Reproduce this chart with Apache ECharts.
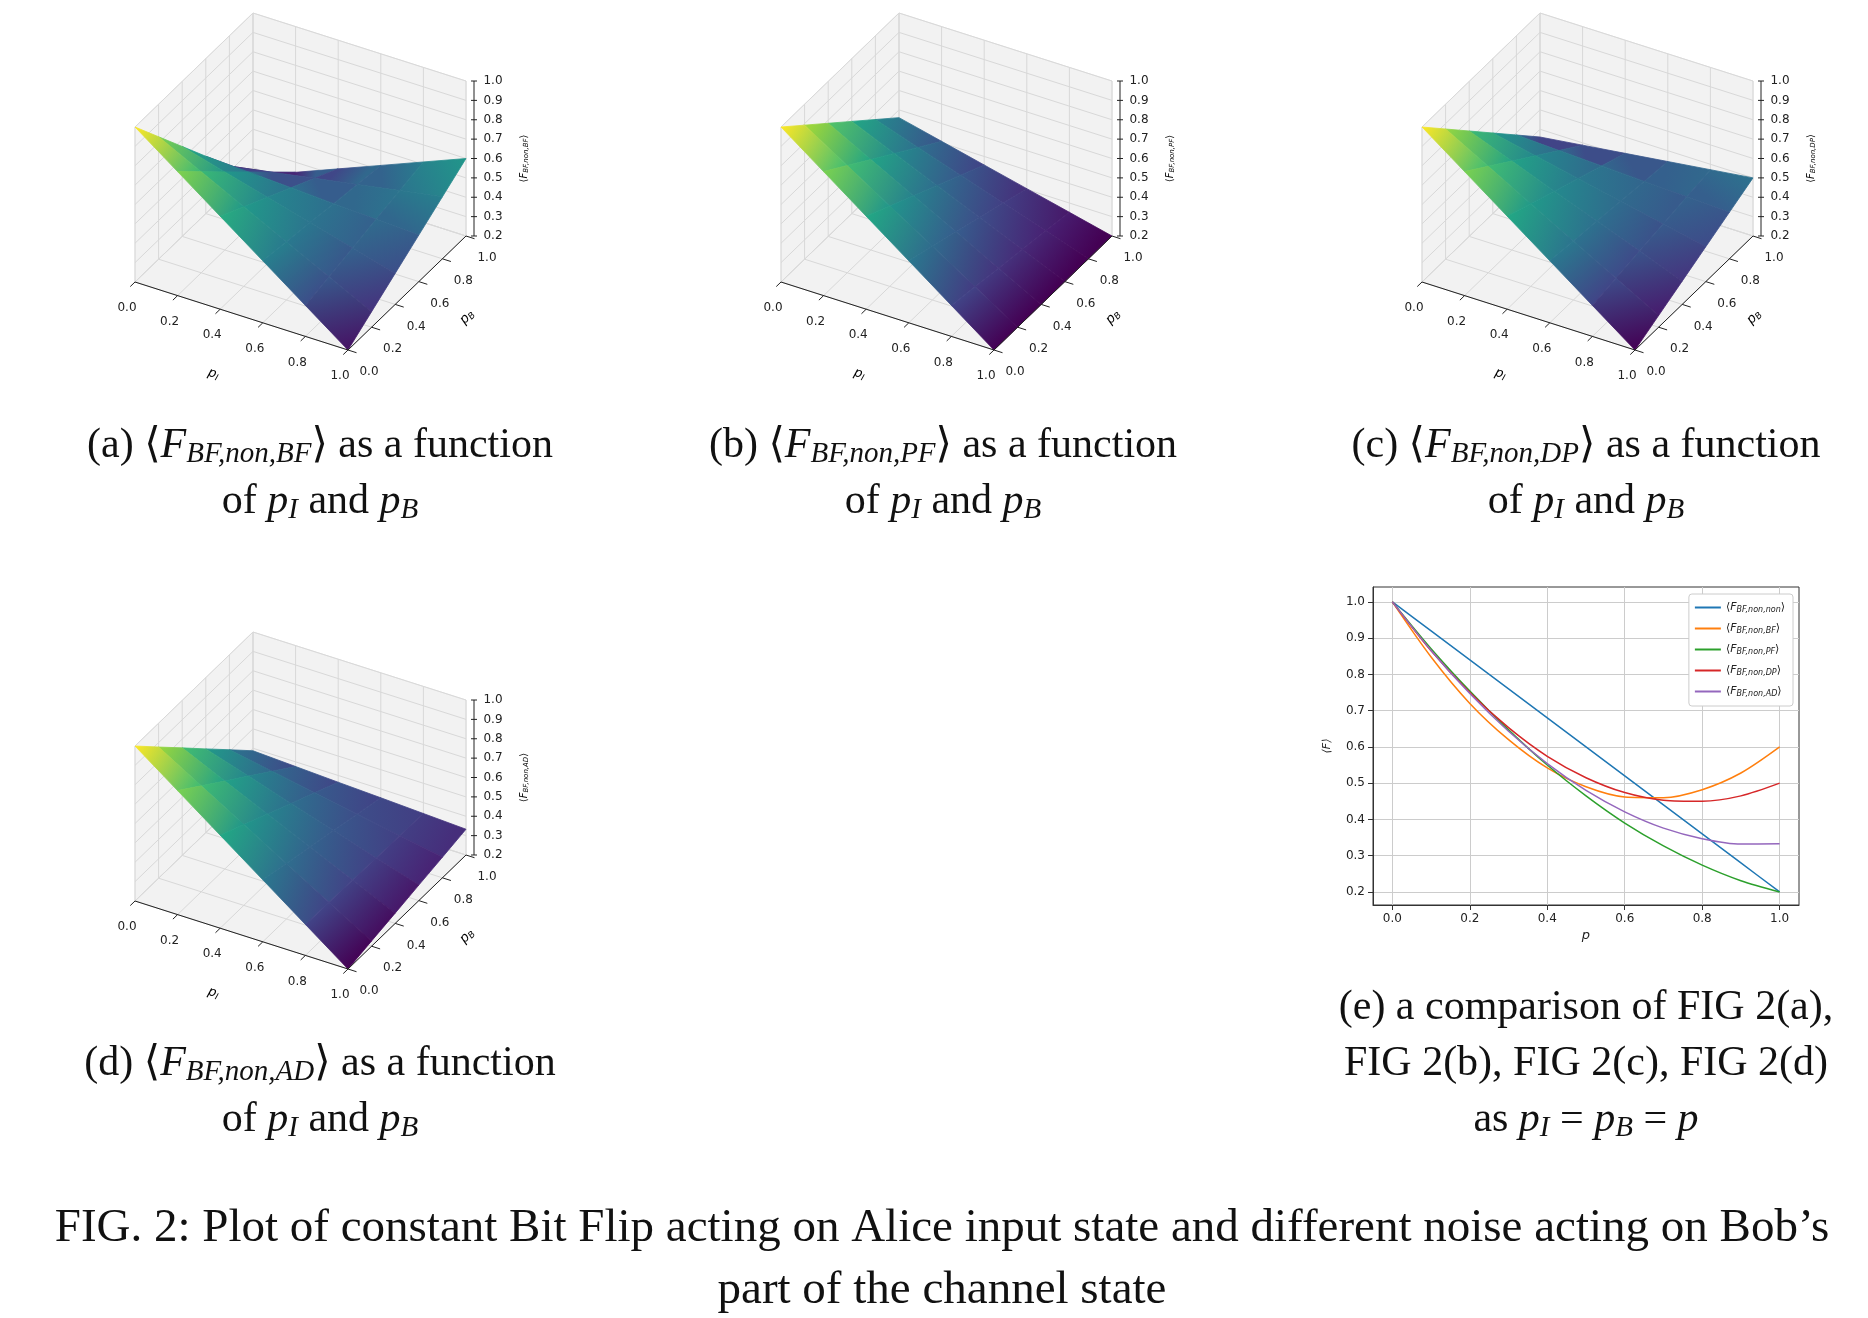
<!DOCTYPE html>
<html><head><meta charset="utf-8">
<script src="https://cdn.jsdelivr.net/npm/echarts@6/dist/echarts.min.js"></script>
<style>html,body{margin:0;padding:0;background:#fff}#c{width:1868px;height:1318px}</style>
</head><body><div id="c"></div>
<script>
// ---- data ----
const pTicks = [0, 0.2, 0.4, 0.6, 0.8, 1.0];
const zTicks = [0.2, 0.3, 0.4, 0.5, 0.6, 0.7, 0.8, 0.9, 1.0];
// surfaces: rows = pB (0..1 step .2), columns = pI (0..1 step .2)
const surfBF = [
  [1.000, 0.840, 0.680, 0.520, 0.360, 0.200],
  [0.832, 0.722, 0.611, 0.501, 0.390, 0.280],
  [0.664, 0.603, 0.542, 0.482, 0.421, 0.360],
  [0.496, 0.485, 0.474, 0.462, 0.451, 0.440],
  [0.328, 0.366, 0.405, 0.443, 0.482, 0.520],
  [0.160, 0.248, 0.336, 0.424, 0.512, 0.600]];
const surfPF = [
  [1.000, 0.840, 0.680, 0.520, 0.360, 0.200],
  [0.892, 0.754, 0.615, 0.477, 0.338, 0.200],
  [0.784, 0.667, 0.550, 0.434, 0.317, 0.200],
  [0.676, 0.581, 0.486, 0.390, 0.295, 0.200],
  [0.568, 0.494, 0.421, 0.347, 0.274, 0.200],
  [0.460, 0.408, 0.356, 0.304, 0.252, 0.200]];
const surfDP = [
  [1.000, 0.840, 0.680, 0.520, 0.360, 0.200],
  [0.872, 0.750, 0.627, 0.505, 0.382, 0.260],
  [0.744, 0.659, 0.574, 0.490, 0.405, 0.320],
  [0.616, 0.569, 0.522, 0.474, 0.427, 0.380],
  [0.488, 0.478, 0.469, 0.459, 0.450, 0.440],
  [0.360, 0.388, 0.416, 0.444, 0.472, 0.500]];
const surfAD = [
  [1.000, 0.840, 0.680, 0.520, 0.360, 0.200],
  [0.877, 0.747, 0.617, 0.487, 0.357, 0.227],
  [0.755, 0.654, 0.554, 0.454, 0.354, 0.253],
  [0.632, 0.562, 0.491, 0.421, 0.350, 0.280],
  [0.510, 0.469, 0.428, 0.388, 0.347, 0.306],
  [0.387, 0.376, 0.365, 0.355, 0.344, 0.333]];
const pLine = [0, 0.1, 0.2, 0.3, 0.4, 0.5, 0.6, 0.7, 0.8, 0.9, 1.0];
const fNon = [1.0, 0.92, 0.84, 0.76, 0.68, 0.60, 0.52, 0.44, 0.36, 0.28, 0.20];
const fBF  = [1.0, 0.848, 0.72, 0.62, 0.542, 0.49, 0.462, 0.46, 0.482, 0.528, 0.60];
const fPF  = [1.0, 0.871, 0.754, 0.647, 0.55, 0.465, 0.39, 0.327, 0.274, 0.231, 0.20];
const fDP  = [1.0, 0.865, 0.75, 0.653, 0.574, 0.515, 0.474, 0.453, 0.45, 0.465, 0.50];
const fAD  = [1.0, 0.866, 0.747, 0.643, 0.554, 0.48, 0.421, 0.376, 0.347, 0.332, 0.333];
const lineNames = ['non,non', 'non,BF', 'non,PF', 'non,DP', 'non,AD'];

// ---- drawing ----
const serif = "'Liberation Serif','DejaVu Serif',serif";
const sans = "'DejaVu Sans',sans-serif";
const vir = ['#440154','#482475','#414487','#355f8d','#2a788e','#21918c','#22a884','#44bf70','#7ad151','#bddf26','#fde725'];
function hex(c){return [1,3,5].map(k=>parseInt(c.substr(k,2),16));}
function viridis(t){t=Math.max(0,Math.min(1,t));const x=t*10,i=Math.min(9,Math.floor(x)),f=x-i;const a=hex(vir[i]),b=hex(vir[i+1]);
  return 'rgb('+a.map((v,k)=>Math.round(v+(b[k]-v)*f)).join(',')+')';}

const panels = [
  {surf: surfBF, o:[135,282], sub:'BF,non,BF'},
  {surf: surfPF, o:[781,282], sub:'BF,non,PF'},
  {surf: surfDP, o:[1422,282], sub:'BF,non,DP'},
  {surf: surfAD, o:[135,901], sub:'BF,non,AD'}];

function proj(o, pi, pb, z){ return [o[0]+pi*213+pb*118, o[1]+pi*68-pb*114-(z-0.2)/0.8*155]; }

function panelGroup(k){
  const P = panels[k], o = P.o, ch = [];
  const paneFill = '#f2f2f2', paneEdge = '#e6e6e6', gridC = '#d8d8d8';
  const poly = (pts, fill, stroke) => ({type:'polygon', shape:{points:pts}, style:{fill:fill, stroke:stroke||fill, lineWidth:stroke?1:0.6}});
  const line = (a, b, c, w) => ({type:'line', shape:{x1:a[0],y1:a[1],x2:b[0],y2:b[1]}, style:{stroke:c, lineWidth:w||1}});
  ch.push(poly([proj(o,0,0,.2),proj(o,0,1,.2),proj(o,0,1,1),proj(o,0,0,1)], paneFill, paneEdge));
  ch.push(poly([proj(o,0,1,.2),proj(o,1,1,.2),proj(o,1,1,1),proj(o,0,1,1)], paneFill, paneEdge));
  ch.push(poly([proj(o,0,0,.2),proj(o,1,0,.2),proj(o,1,1,.2),proj(o,0,1,.2)], paneFill, paneEdge));
  pTicks.forEach(t=>{
    ch.push(line(proj(o,0,t,.2),proj(o,0,t,1),gridC));
    ch.push(line(proj(o,t,1,.2),proj(o,t,1,1),gridC));
    ch.push(line(proj(o,t,0,.2),proj(o,t,1,.2),gridC));
    ch.push(line(proj(o,0,t,.2),proj(o,1,t,.2),gridC));
  });
  zTicks.forEach(z=>{
    ch.push(line(proj(o,0,0,z),proj(o,0,1,z),gridC));
    ch.push(line(proj(o,0,1,z),proj(o,1,1,z),gridC));
  });
  const S = P.surf; let mn=1e9,mx=-1e9; S.forEach(r=>r.forEach(v=>{mn=Math.min(mn,v);mx=Math.max(mx,v);}));
  const quads=[];
  for(let j=0;j<5;j++)for(let i=0;i<5;i++){
    const a=pTicks[i],b=pTicks[i+1],c=pTicks[j],d=pTicks[j+1];
    const corners=[[a,c,S[j][i]],[b,c,S[j][i+1]],[b,d,S[j+1][i+1]],[a,d,S[j+1][i]]];
    const pts=corners.map(q=>proj(o,q[0],q[1],q[2]));
    let lo=0,hi=0; corners.forEach((q,m)=>{if(q[2]<corners[lo][2])lo=m; if(q[2]>corners[hi][2])hi=m;});
    const A=pts[lo],B=pts[hi];
    const fill = (hi===lo)?viridis((corners[0][2]-mn)/(mx-mn)):
      new echarts.graphic.LinearGradient(A[0],A[1],B[0],B[1],[
        {offset:0,color:viridis((corners[lo][2]-mn)/(mx-mn))},
        {offset:1,color:viridis((corners[hi][2]-mn)/(mx-mn))}],true);
    quads.push({depth:(a+b)/2*68-(c+d)/2*114, pts, fill});
  }
  quads.sort((p,q)=>p.depth-q.depth).forEach(q=>ch.push({type:'polygon',shape:{points:q.pts},style:{fill:q.fill,stroke:q.fill,lineWidth:0.8}}));
  const ax='#222';
  ch.push(line(proj(o,0,0,.2),proj(o,1,0,.2),ax));
  ch.push(line(proj(o,1,0,.2),proj(o,1,1,.2),ax));
  const zx = proj(o,1,1,.2)[0]+8;
  ch.push({type:'line',shape:{x1:zx,y1:proj(o,1,1,.2)[1],x2:zx,y2:proj(o,1,1,1)[1]},style:{stroke:ax,lineWidth:1}});
  const lab=(x,y,t)=>({type:'text',x:x,y:y,style:{text:t,fontFamily:sans,fontSize:12,fill:'#222',align:'center',verticalAlign:'middle'}});
  pTicks.forEach(t=>{
    ch.push(line(proj(o,t,0,.2),proj(o,t,-0.04,.2),ax));
    const q=proj(o,t,0,.2); ch.push(lab(q[0]-8,q[1]+26,t.toFixed(1)));
    ch.push(line(proj(o,1,t,.2),proj(o,1.04,t,.2),ax));
    const r=proj(o,1,t,.2); ch.push(lab(r[0]+21,r[1]+22,t.toFixed(1)));
  });
  zTicks.forEach(z=>{
    const y=proj(o,1,1,z)[1];
    ch.push({type:'line',shape:{x1:zx-3,y1:y,x2:zx+3,y2:y},style:{stroke:ax,lineWidth:1}});
    ch.push(lab(zx+19,y,z.toFixed(1)));
  });
  const sr={i:{fontStyle:'italic',fontSize:13,fontFamily:sans},s:{fontStyle:'italic',fontSize:9,fontFamily:sans,padding:[6,0,0,0]}};
  const pl=proj(o,0.5,0,.2), pb=proj(o,1,0.5,.2);
  ch.push({type:'text',x:pl[0]-28,y:pl[1]+58,rotation:-0.3,style:{text:'{i|p}{s|I}',rich:sr,align:'center',verticalAlign:'middle'}});
  ch.push({type:'text',x:pb[0]+60,y:pb[1]+24,rotation:0.8,style:{text:'{i|p}{s|B}',rich:sr,align:'center',verticalAlign:'middle'}});
  ch.push({type:'text',x:zx+50,y:proj(o,1,1,.6)[1],rotation:Math.PI/2,style:{text:'⟨{i|F}{s|'+P.sub+'}⟩',fontSize:10,fontFamily:sans,rich:{i:{fontStyle:'italic',fontSize:10,fontFamily:sans},s:{fontStyle:'italic',fontSize:7,fontFamily:sans,padding:[5,0,0,0]}},align:'center',verticalAlign:'middle'}});
  return {type:'group',children:ch};
}

function capRich(fs){return {
  i:{fontStyle:'italic',fontSize:fs,fontFamily:serif,lineHeight:56},
  s:{fontStyle:'italic',fontSize:Math.round(fs*0.7),fontFamily:serif,padding:[16,0,0,0],lineHeight:56}};}
function cap(x,y,txt,fs){fs=fs||42;return {type:'text',x:x,y:y,style:{text:txt,rich:capRich(fs),fontSize:fs,fontFamily:serif,lineHeight:fs>42?62:56,fill:'#111',align:'center',verticalAlign:'top'}};}

const chart = echarts.init(document.getElementById('c'));
const colors=['#1f77b4','#ff7f0e','#2ca02c','#d62728','#9467bd'];
const ys=[fNon,fBF,fPF,fDP,fAD];
chart.setOption({
  animation:false,
  grid:{left:1373,top:587,width:426,height:318,show:true,borderColor:'#333',borderWidth:1},
  xAxis:{type:'value',min:-0.05,max:1.05,
    axisLabel:{fontSize:12,fontFamily:sans,color:'#222',customValues:pTicks,formatter:v=>v.toFixed(1)},
    axisTick:{show:true,customValues:pTicks},
    splitLine:{show:true,lineStyle:{color:'#ccc'}},axisLine:{onZero:false,lineStyle:{color:'#333'}},
    name:'p',nameLocation:'middle',nameGap:24,nameTextStyle:{fontStyle:'italic',fontSize:13,color:'#222',fontFamily:sans}},
  yAxis:{type:'value',min:0.164,max:1.041,
    axisLabel:{fontSize:12,fontFamily:sans,color:'#222',customValues:zTicks,formatter:v=>v.toFixed(1)},
    axisTick:{show:true,customValues:zTicks},
    splitLine:{show:true,lineStyle:{color:'#ccc'}},axisLine:{show:true,onZero:false,lineStyle:{color:'#333'}},
    name:'⟨F⟩',nameLocation:'middle',nameGap:40,nameTextStyle:{fontStyle:'italic',fontSize:11,color:'#222',fontFamily:sans}},
  legend:{right:75,top:594,orient:'vertical',itemWidth:26,itemHeight:2,itemGap:9,icon:'rect',
    backgroundColor:'#fff',borderColor:'#ccc',borderWidth:1,borderRadius:3,padding:[8,8,8,6],
    formatter:n=>'⟨{i|F}{s|BF,'+n+'}⟩',
    textStyle:{fontSize:11,fontFamily:sans,color:'#222',rich:{i:{fontStyle:'italic',fontSize:11,fontFamily:sans},s:{fontStyle:'italic',fontSize:8,fontFamily:sans,padding:[5,0,0,0]}}}},
  series:[
    ...ys.map((d,k)=>({type:'line',name:lineNames[k],data:pLine.map((p,i)=>[p,d[i]]),smooth:0.3,symbol:'none',
      lineStyle:{width:1.5,color:colors[k]},itemStyle:{color:colors[k]}})),
    {type:'custom',coordinateSystem:'none',data:[[0],[1],[2],[3]],renderItem:(params)=>panelGroup(params.dataIndex),silent:true}
  ],
  graphic:[
    cap(320,418,'(a) ⟨{i|F}{s|BF,non,BF}⟩ as a function\nof {i|p}{s|I} and {i|p}{s|B}'),
    cap(943,418,'(b) ⟨{i|F}{s|BF,non,PF}⟩ as a function\nof {i|p}{s|I} and {i|p}{s|B}'),
    cap(1586,418,'(c) ⟨{i|F}{s|BF,non,DP}⟩ as a function\nof {i|p}{s|I} and {i|p}{s|B}'),
    cap(320,1036,'(d) ⟨{i|F}{s|BF,non,AD}⟩ as a function\nof {i|p}{s|I} and {i|p}{s|B}'),
    cap(1586,980,'(e) a comparison of FIG 2(a),\nFIG 2(b), FIG 2(c), FIG 2(d)\nas {i|p}{s|I} = {i|p}{s|B} = {i|p}'),
    cap(942,1198,'FIG. 2: Plot of constant Bit Flip acting on Alice input state and different noise acting on Bob’s\npart of the channel state',47)
  ]
});
</script></body></html>
